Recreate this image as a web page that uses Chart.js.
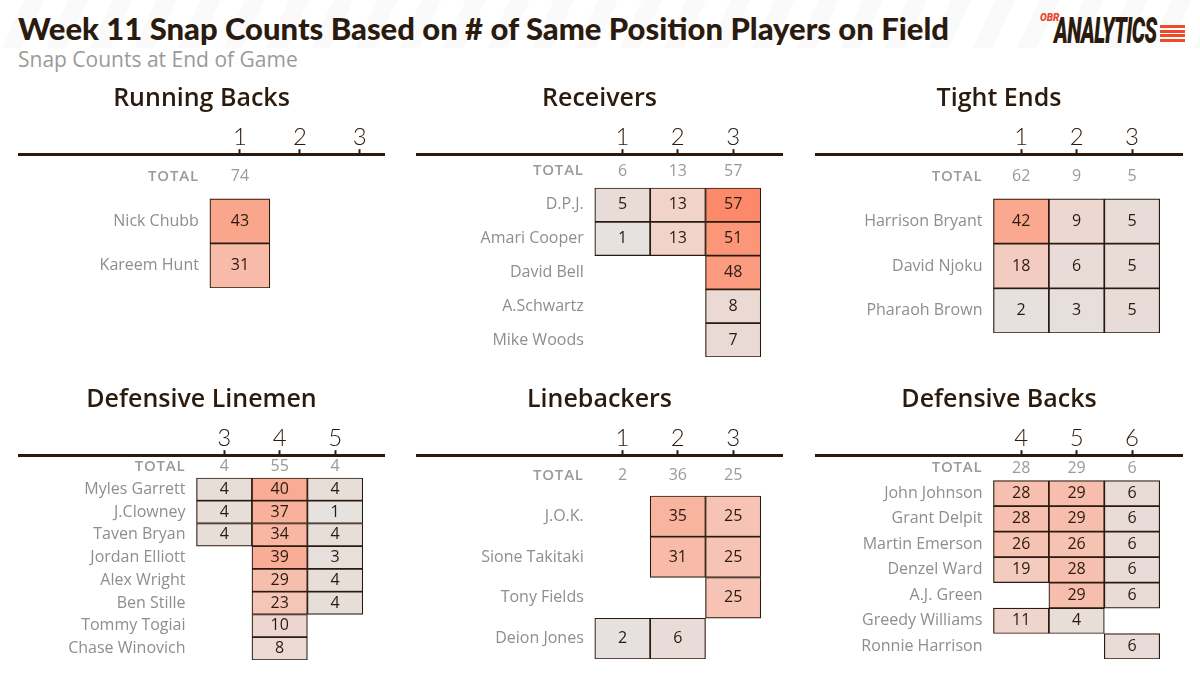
<!DOCTYPE html>
<html>
<head>
<meta charset="utf-8">
<script src="https://cdn.jsdelivr.net/npm/chart.js@4.4.0/dist/chart.umd.min.js"></script>
<style>
  body { margin: 0; width: 1200px; height: 675px; background: #fff; position: relative; overflow: hidden; }
  #flag { position: absolute; left: 0; top: 0; width: 1200px; height: 48px; opacity: 0.3;
    background:
      repeating-linear-gradient(115deg, transparent 0 22px, #efefef 22px 40px),
      linear-gradient(to bottom, transparent 0 18px, #fff 18px 24px, transparent 24px); }
  #title { position: absolute; left: 18px; top: 10px; font: 900 31px 'Lato', sans-serif; color: #2b1b0e; white-space: nowrap; line-height: 36px; }
  #subtitle { position: absolute; left: 18px; top: 47px; font: 400 21px 'Open Sans', sans-serif; color: #9a9a9a; white-space: nowrap; line-height: 24px; }
  #logo { position: absolute; left: 1038px; top: 10px; width: 150px; height: 40px; }
  #logo .obr { position: absolute; left: 2px; top: 2px; font: italic 900 10px 'Roboto', sans-serif; color: #e8442a; }
  #logo .an { position: absolute; left: 16px; top: 0; font: italic 900 36px 'Roboto', sans-serif; color: #2b1b0e; transform: scaleX(0.58); transform-origin: left top; letter-spacing: -1px; }
  #logo .stripes { position: absolute; left: 122px; top: 15px; width: 25px; height: 17px;
    background: repeating-linear-gradient(to bottom, #ee4b2b 0 3px, transparent 3px 4.5px); }
  canvas { position: absolute; }
</style>
</head>
<body>
<div id="flag"></div>
<div id="title">Week 11 Snap Counts Based on # of Same Position Players on Field</div>
<div id="subtitle">Snap Counts at End of Game</div>
<div id="logo"><span class="obr">OBR</span><span class="an">ANALYTICS</span><span class="stripes"></span></div>

<canvas id="rb" width="367" height="210" style="left:18px;top:78px"></canvas>
<canvas id="wr" width="367" height="279" style="left:416px;top:78px"></canvas>
<canvas id="te" width="368" height="255" style="left:815px;top:78px"></canvas>
<canvas id="dl" width="367" height="281" style="left:18px;top:379px"></canvas>
<canvas id="lb" width="367" height="280" style="left:416px;top:379px"></canvas>
<canvas id="db" width="368" height="280" style="left:815px;top:379px"></canvas>

<script>
// ---- data (null = player never on field in that grouping)

const rbCols = [1, 2, 3]
const rbPlayers = ['Nick Chubb', 'Kareem Hunt']
const rbTotals = [74, null, null]
const rbSnaps = [
  [43, null, null],
  [31, null, null],
]

const wrCols = [1, 2, 3]
const wrPlayers = ['D.P.J.', 'Amari Cooper', 'David Bell', 'A.Schwartz', 'Mike Woods']
const wrTotals = [6, 13, 57]
const wrSnaps = [
  [5, 13, 57],
  [1, 13, 51],
  [null, null, 48],
  [null, null, 8],
  [null, null, 7],
]

const teCols = [1, 2, 3]
const tePlayers = ['Harrison Bryant', 'David Njoku', 'Pharaoh Brown']
const teTotals = [62, 9, 5]
const teSnaps = [
  [42, 9, 5],
  [18, 6, 5],
  [2, 3, 5],
]

const dlCols = [3, 4, 5]
const dlPlayers = ['Myles Garrett', 'J.Clowney', 'Taven Bryan', 'Jordan Elliott', 'Alex Wright', 'Ben Stille', 'Tommy Togiai', 'Chase Winovich']
const dlTotals = [4, 55, 4]
const dlSnaps = [
  [4, 40, 4],
  [4, 37, 1],
  [4, 34, 4],
  [null, 39, 3],
  [null, 29, 4],
  [null, 23, 4],
  [null, 10, null],
  [null, 8, null],
]

const lbCols = [1, 2, 3]
const lbPlayers = ['J.O.K.', 'Sione Takitaki', 'Tony Fields', 'Deion Jones']
const lbTotals = [2, 36, 25]
const lbSnaps = [
  [null, 35, 25],
  [null, 31, 25],
  [null, null, 25],
  [2, 6, null],
]

const dbCols = [4, 5, 6]
const dbPlayers = ['John Johnson', 'Grant Delpit', 'Martin Emerson', 'Denzel Ward', 'A.J. Green', 'Greedy Williams', 'Ronnie Harrison']
const dbTotals = [28, 29, 6]
const dbSnaps = [
  [28, 29, 6],
  [28, 29, 6],
  [26, 26, 6],
  [19, 28, 6],
  [null, 29, 6],
  [11, 4, null],
  [null, null, 6],
]

// ---- styling

const DARK = '#2b1b0e'
const GREY = '#8e8e8e'

// colour ramp from grey to salmon, stops
const ramp = [
  [0, [228, 227, 225]],
  [6, [233, 219, 215]],
  [13, [241, 211, 202]],
  [31, [248, 187, 169]],
  [43, [250, 166, 141]],
  [57, [252, 138, 106]],
]

function heatColor(v) {
  for (let i = 1; i < ramp.length; i++) {
    if (v <= ramp[i][0] || i === ramp.length - 1) {
      const [v0, c0] = ramp[i - 1]
      const [v1, c1] = ramp[i]
      const t = Math.min(1, Math.max(0, (v - v0) / (v1 - v0)))
      const c = c0.map((a, k) => Math.round(a + (c1[k] - a) * t))
      return `rgb(${c[0]},${c[1]},${c[2]})`
    }
  }
}

function heatmap(id, title, cols, players, totals, snaps, xMin, xMax) {
  const ctx = document.querySelector('#' + id).getContext('2d')

  const datasets = cols.map((c, j) => ({
    data: [null].concat(snaps.map(row => row[j] == null ? null : [c - 0.5, c + 0.5])),
    backgroundColor: ['transparent'].concat(snaps.map(row => row[j] == null ? 'transparent' : heatColor(row[j]))),
    borderColor: DARK,
    borderWidth: 1.2,
    borderSkipped: false,
    grouped: false,
    categoryPercentage: 1,
    barPercentage: 1,
  }))

  const cellText = {
    id: 'cellText',
    afterDatasetsDraw(chart) {
      const { ctx, scales: { x, y } } = chart
      const nameX = x.getPixelForValue(cols[0] - 0.5) - 11
      ctx.save()
      ctx.textBaseline = 'middle'

      ctx.textAlign = 'right'
      ctx.fillStyle = GREY
      ctx.font = '16px "Open Sans"'
      players.forEach((p, i) => ctx.fillText(p, nameX, y.getPixelForValue(i + 1)))
      ctx.font = '600 15px "Open Sans"'
      ctx.letterSpacing = '0.8px'
      ctx.fillStyle = '#9a9a9a'
      ctx.fillText('TOTAL', nameX, y.getPixelForValue(0))
      ctx.letterSpacing = '0px'

      ctx.textAlign = 'center'
      ctx.font = '500 16px "Open Sans"'
      totals.forEach((t, j) => {
        if (t != null) ctx.fillText(t, x.getPixelForValue(cols[j]), y.getPixelForValue(0))
      })

      ctx.fillStyle = DARK
      snaps.forEach((row, i) => row.forEach((v, j) => {
        if (v != null) ctx.fillText(v, x.getPixelForValue(cols[j]), y.getPixelForValue(i + 1))
      }))
      ctx.restore()
    }
  }

  new Chart(ctx, {
    type: 'bar',
    data: {
      labels: ['TOTAL'].concat(players),
      datasets: datasets,
    },
    options: {
      indexAxis: 'y',
      responsive: false,
      animation: false,
      events: [],
      layout: { padding: 0 },
      scales: {
        x: {
          type: 'linear',
          position: 'top',
          min: xMin,
          max: xMax,
          afterBuildTicks: axis => { axis.ticks = cols.map(v => ({ value: v })) },
          border: { display: true, color: DARK, width: 3 },
          grid: { drawOnChartArea: false, drawTicks: true, tickLength: 5, tickWidth: 2, tickColor: DARK },
          ticks: { padding: 0, color: DARK, font: { family: 'Lato', size: 24, weight: 300, lineHeight: 1 } },
        },
        y: { display: false },
      },
      plugins: {
        legend: { display: false },
        tooltip: { enabled: false },
        title: {
          display: true,
          text: title,
          color: DARK,
          font: { family: 'Open Sans', size: 25, weight: 600, lineHeight: 1.2 },
          padding: { top: 6, bottom: 11.2 },
        },
      },
    },
    plugins: [cellText],
  })
}

heatmap('rb', 'Running Backs', rbCols, rbPlayers, rbTotals, rbSnaps, -2.7, 3.42)
heatmap('wr', 'Receivers', wrCols, wrPlayers, wrTotals, wrSnaps, -2.73, 3.9)
heatmap('te', 'Tight Ends', teCols, tePlayers, teTotals, teSnaps, -2.72, 3.92)
heatmap('dl', 'Defensive Linemen', dlCols, dlPlayers, dlTotals, dlSnaps, -0.72, 5.9)
heatmap('lb', 'Linebackers', lbCols, lbPlayers, lbTotals, lbSnaps, -2.73, 3.9)
heatmap('db', 'Defensive Backs', dbCols, dbPlayers, dbTotals, dbSnaps, 0.28, 6.92)
</script>
</body>
</html>
